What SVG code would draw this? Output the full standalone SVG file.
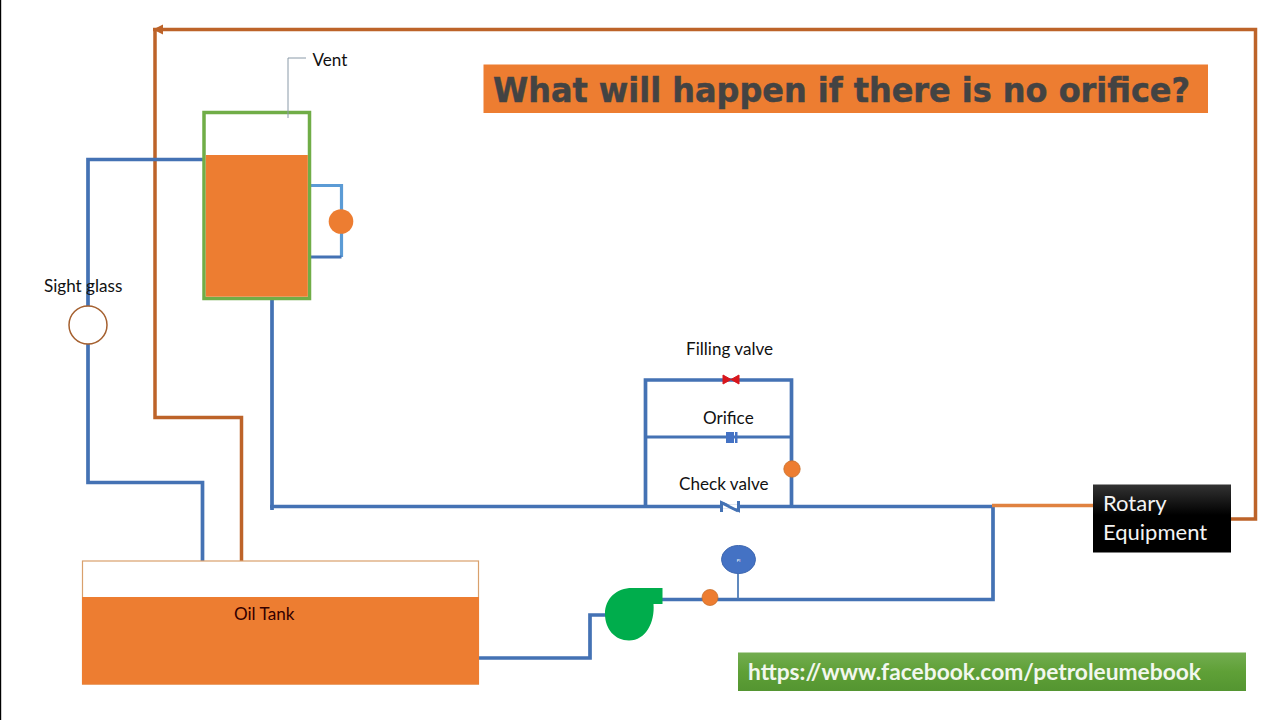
<svg xmlns="http://www.w3.org/2000/svg" width="1280" height="720" viewBox="0 0 1280 720">
<style>
.t{font-family:Lato,"Open Sans",sans-serif;font-size:17.100px;fill:#111}
.p{fill:none;stroke:#4472b4;stroke-width:3.700}
.b{fill:none;stroke:#bd6329;stroke-width:3.500}
.o{fill:#ed7d31}
</style>
<defs>
<marker id="ah" markerUnits="userSpaceOnUse" markerWidth="12" markerHeight="12" refX="11" refY="6" orient="auto"><path d="M1 1L11 6L1 11Z" fill="#bd6329"/></marker>
<linearGradient id="bk" x1="0" y1="0" x2="0" y2="1"><stop offset="0" stop-color="#333"/><stop offset=".45" stop-color="#000"/><stop offset="1" stop-color="#000"/></linearGradient>
<linearGradient id="gr" x1="0" y1="0" x2="0" y2="1"><stop offset="0" stop-color="#73ad50"/><stop offset=".5" stop-color="#5fa037"/><stop offset="1" stop-color="#549531"/></linearGradient>
</defs>
<rect width="1280" height="720" fill="#fff"/>
<rect width="1.2" height="720" fill="#000"/>
<g id="connectors">
<path class="b" d="M1231 519H1255.500V29.500H153" marker-end="url(#ah)"/>
<path class="b" d="M155 30V417.500H241.500V561"/>
<path class="p" d="M204 159.500H88V482.500H202.500V561"/>
<path class="p" d="M272 298V510M270 506.500H992"/>
<path class="p" d="M645.500 506V380H791.500V506"/>
<path class="p" d="M646 437H791" style="stroke-width:3"/>
<path class="p" d="M478 658H590V615H606"/>
<path class="p" d="M660 599.500H993V506"/>
<path d="M738 546V599" fill="none" stroke="#4f7db8" stroke-width="1.800"/>
<path d="M992 505.500H1094" fill="none" stroke="#e08240" stroke-width="3.500"/>
<path d="M309 185.500H341.500V257" fill="none" stroke="#5b9bd5" stroke-width="3.200"/>
<path d="M309 257H341.500" fill="none" stroke="#4472b4" stroke-width="3.200"/>
<path d="M288 58H306" fill="none" stroke="#8a9aa8" stroke-width="1"/>
</g>
<g id="head-tank">
<rect x="204" y="112.500" width="105.500" height="186" fill="#fff" stroke="#70ad47" stroke-width="3.500"/>
<rect x="205.800" y="155" width="102" height="141.700" class="o"/>
<path d="M288 58V118" fill="none" stroke="#8a9aa8" stroke-width="1"/>
</g>
<g id="level-switch"><circle cx="341" cy="221.500" r="12.300" class="o"/></g>
<g id="sight-glass">
<circle cx="88" cy="325" r="19" fill="#fff" stroke="#a5602f" stroke-width="1.500"/>
<text class="t" x="44" y="292">Sight glass</text>
</g>
<g id="oil-tank">
<rect x="82.500" y="561" width="396" height="123" fill="#fff" stroke="#d9a06c" stroke-width="1.200"/>
<rect x="82" y="597" width="397" height="87.500" class="o"/>
<text class="t" x="234" y="620" style="fill:#300">Oil Tank</text>
</g>
<g id="pump"><path d="M605 614C605 598 617 588 632 588H662.500V604H653.500C655 622 646 640.500 629 640.500C615 640.500 605 629 605 614Z" fill="#00ad4c"/></g>
<g id="flow-point"><circle cx="710" cy="597.500" r="8" class="o" stroke="#c8702c" stroke-width=".8"/></g>
<g id="pressure-indicator">
<ellipse cx="738.500" cy="559.500" rx="17" ry="14" fill="#4472c4" stroke="#3f68b0"/>
<text x="738.500" y="561.500" text-anchor="middle" font-family="Lato,sans-serif" font-size="4" fill="#fff">PI</text>
</g>
<g id="filling-valve">
<path d="M723 375V384L731 379.500ZM739 375V384L731 379.500Z" fill="#d8161c" stroke="#d8161c"/>
<text class="t" x="686" y="355">Filling valve</text>
</g>
<g id="orifice">
<rect x="726" y="432" width="8" height="11" fill="#4472c4"/><rect x="735" y="432" width="2.500" height="11" fill="#4472c4"/>
<text class="t" x="703" y="423.500">Orifice</text>
</g>
<g id="check-valve">
<path d="M721.500 512V502.500L738.500 510.500V501" fill="none" stroke="#4472b4" stroke-width="3"/>
<rect x="723" y="504.700" width="14" height="3.700" fill="#fff"/>
<path d="M722 503L738 511" fill="none" stroke="#4472b4" stroke-width="3"/>
<text class="t" x="679" y="490">Check valve</text>
</g>
<g id="flow-point-2"><circle cx="792" cy="469" r="8.200" class="o" stroke="#c8702c" stroke-width=".8"/></g>
<g id="rotary-equipment">
<rect x="1093" y="484.500" width="138" height="68" fill="url(#bk)"/>
<text x="1103" y="511" font-family="Lato,sans-serif" font-size="22" fill="#f4f4f4">Rotary</text>
<text x="1103" y="540" font-family="Lato,sans-serif" font-size="22" fill="#f4f4f4">Equipment</text>
</g>
<g id="vent-label"><text class="t" x="312.500" y="65.500">Vent</text></g>
<g id="title">
<rect x="483.500" y="64.500" width="724.500" height="48.500" fill="#ed7d31"/>
<text x="493" y="102" font-family="DejaVu Sans,sans-serif" font-weight="700" font-size="33.500" fill="#434343" stroke="#434343" stroke-width=".5" textLength="697" lengthAdjust="spacingAndGlyphs">What will happen if there is no orifice?</text>
</g>
<g id="link">
<rect x="738" y="652.500" width="508" height="38.500" fill="url(#gr)"/>
<text x="748" y="680" font-family="Lato,sans-serif" font-weight="700" font-size="23.500" fill="#f2f7ee" textLength="453" lengthAdjust="spacingAndGlyphs">https://www.facebook.com/petroleumebook</text>
</g>
</svg>
